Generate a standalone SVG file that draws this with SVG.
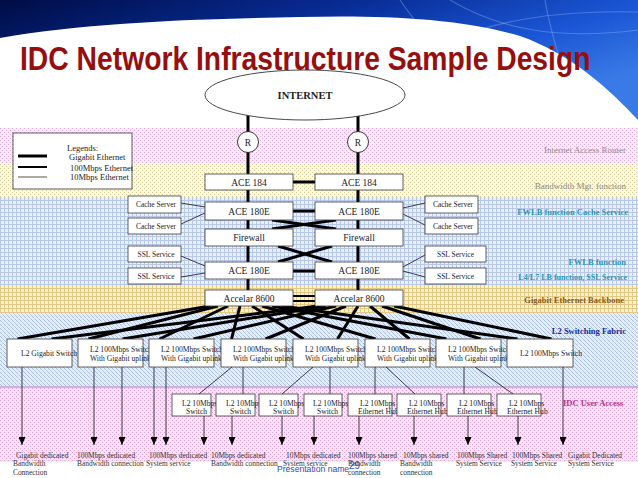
<svg xmlns="http://www.w3.org/2000/svg" width="638" height="478" viewBox="0 0 638 478">
<defs>
  <linearGradient id="hdr" x1="0" y1="0" x2="1" y2="0.6">
    <stop offset="0" stop-color="#000d45"/>
    <stop offset="0.4" stop-color="#072a92"/>
    <stop offset="0.75" stop-color="#1a56d4"/>
    <stop offset="1" stop-color="#3a7ae6"/>
  </linearGradient>
  <clipPath id="hdrClip"><path d="M0,0 H638 V120 C612,92 572,54 520,36 C460,18 380,15 300,17 C200,19 90,22 0,38 Z"/></clipPath>
  <pattern id="pinkDots" width="4" height="4" patternUnits="userSpaceOnUse">
    <rect width="4" height="4" fill="#fbebf8"/><rect width="1" height="1" fill="#deaad6"/><rect x="2" y="2" width="1" height="1" fill="#deaad6"/>
  </pattern>
  <pattern id="pinkDots2" width="4" height="4" patternUnits="userSpaceOnUse">
    <rect width="4" height="4" fill="#f9e3f4"/><rect width="1" height="1" fill="#d9a0d0"/><rect x="2" y="2" width="1" height="1" fill="#d9a0d0"/>
  </pattern>
  <pattern id="yelDots" width="4" height="4" patternUnits="userSpaceOnUse">
    <rect width="4" height="4" fill="#fbf8e4"/><rect width="1" height="1" fill="#d6cb92"/><rect x="2" y="2" width="1" height="1" fill="#d6cb92"/>
  </pattern>
  <pattern id="blueGrid" width="4" height="4" patternUnits="userSpaceOnUse">
    <rect width="4" height="4" fill="#eaf0fa"/><rect width="4" height="1" fill="#b7c8e8"/><rect width="1" height="4" fill="#b7c8e8"/>
  </pattern>
  <pattern id="yelGrid" width="4" height="4" patternUnits="userSpaceOnUse">
    <rect width="4" height="4" fill="#fcf2cc"/><rect width="4" height="1" fill="#e2c985"/><rect width="1" height="4" fill="#e2c985"/>
  </pattern>
  <pattern id="blueDiag" width="4" height="4" patternUnits="userSpaceOnUse">
    <rect width="4" height="4" fill="#e4edfa"/><rect width="1" height="1" fill="#a9c0e6"/><rect x="1" y="1" width="1" height="1" fill="#a9c0e6"/><rect x="2" y="2" width="1" height="1" fill="#c4d4ee"/><rect x="3" y="3" width="1" height="1" fill="#a9c0e6"/>
  </pattern>
  <marker id="arr" markerWidth="8" markerHeight="7" refX="8" refY="3.5" orient="auto" markerUnits="userSpaceOnUse">
    <path d="M0,0 L8,3.5 L0,7 Z" fill="#000"/>
  </marker>
  <style>
    .box{fill:#fff;stroke:#3a3a3a;stroke-width:0.8}
    .t{font-family:"Liberation Serif","Times New Roman",serif;fill:#222}
    .lb{font-size:9.5px;text-anchor:middle}
    .sm{font-size:7.5px;text-anchor:middle}
    .l2{font-size:7.6px}
    .bt{font-family:"Liberation Serif","Times New Roman",serif;font-size:7.4px;fill:#333}
    .band{font-family:"Liberation Serif","Times New Roman",serif;text-anchor:end}
    .thick{stroke:#000;stroke-width:3;fill:none;stroke-linecap:butt}
    .med{stroke:#000;stroke-width:2;fill:none}
    .thin{stroke:#2a2a2a;stroke-width:0.9;fill:none}
    .down{stroke:#2a2a2a;stroke-width:0.9;fill:none;marker-end:url(#arr)}
  </style>
</defs>

<!-- background -->
<rect width="638" height="478" fill="#fff"/>
<path d="M0,0 H638 V120 C612,92 572,54 520,36 C460,18 380,15 300,17 C200,19 90,22 0,38 Z" fill="url(#hdr)"/>
<g clip-path="url(#hdrClip)" fill="none" stroke="#9fc0ff" stroke-opacity="0.35" stroke-width="1.2">
  <path d="M400,0 C420,30 450,60 470,110"/>
  <path d="M545,0 C550,30 560,60 575,110"/>
  <path d="M420,55 C480,20 560,10 638,12"/>
  <path d="M450,0 C500,30 560,40 638,30"/>
</g>
<text transform="translate(20,70) scale(1,1.17)" x="0" y="0" font-family="'Liberation Sans',Arial,sans-serif" font-weight="bold" font-size="28.3" fill="#960f0f">IDC Network Infrastructure Sample Design</text>

<!-- bands -->
<rect x="0" y="128" width="638" height="35" fill="url(#pinkDots)"/>
<rect x="0" y="163" width="638" height="34" fill="url(#yelDots)"/>
<rect x="0" y="197" width="638" height="88" fill="url(#blueGrid)"/>
<rect x="0" y="285" width="638" height="28" fill="url(#yelGrid)"/>
<rect x="0" y="313" width="638" height="74" fill="url(#blueDiag)"/>
<rect x="0" y="387" width="638" height="74" fill="url(#pinkDots2)"/>
<line x1="0" y1="387" x2="638" y2="387" stroke="#b46cc8" stroke-width="0.9"/>
<line x1="0" y1="461" x2="638" y2="461" stroke="#e6bfe0" stroke-width="0.6"/>

<!-- band labels -->
<text class="band" x="626" y="153" font-size="9" fill="#8a8a8a">Internet Access Router</text>
<text class="band" x="626" y="189" font-size="9" fill="#8a8a8a">Bandwidth Mgt. function</text>
<text class="band" x="628" y="215" font-size="8.5" font-weight="bold" fill="#2a97b3">FWLB function Cache Service</text>
<text class="band" x="626" y="265" font-size="8.5" font-weight="bold" fill="#2a97b3">FWLB function</text>
<text class="band" x="627" y="280" font-size="8" font-weight="bold" fill="#2a97b3">L4/L7 LB function, SSL Service</text>
<text class="band" x="624" y="303" font-size="8.5" font-weight="bold" fill="#8b5a1a">Gigabit Ethernet Backbone</text>
<text class="band" x="626" y="334" font-size="8.5" font-weight="bold" fill="#1a2a9a">L2 Switching Fabric</text>
<text x="563" y="406" font-family="'Liberation Serif','Times New Roman',serif" font-size="8.5" font-weight="bold" fill="#c4308c">IDC User Access</text>

<!-- legend -->
<g id="legend">
  <rect x="13" y="133" width="119" height="56" fill="#fff" stroke="#333" stroke-width="0.8"/>
  <line x1="18" y1="156" x2="47" y2="156" stroke="#000" stroke-width="3"/>
  <line x1="18" y1="167" x2="47" y2="167" stroke="#000" stroke-width="2"/>
  <line x1="18" y1="177" x2="47" y2="177" stroke="#555" stroke-width="1"/>
  <text class="t" x="67" y="151" font-size="8.5">Legends:</text>
  <text class="t" x="69" y="160" font-size="8.5">Gigabit Ethernet</text>
  <text class="t" x="70" y="171" font-size="8.5">100Mbps Ethernet</text>
  <text class="t" x="70" y="180" font-size="8.5">10Mbps Ethernet</text>
</g>

<!-- connectors -->
<g id="connectors">
  <line class="thick" x1="248" y1="115" x2="248" y2="290"/>
  <line class="thick" x1="358" y1="115" x2="358" y2="290"/>
  <line class="thick" x1="293" y1="182" x2="315" y2="182"/>
  <line class="thick" x1="293" y1="211" x2="315" y2="211"/>
  <line class="thick" x1="293" y1="271" x2="315" y2="271"/>
  <line class="med" x1="293" y1="296" x2="315" y2="296"/>
  <line class="med" x1="293" y1="301" x2="315" y2="301"/>
  <line class="thick" x1="272" y1="220" x2="336" y2="229"/>
  <line class="thick" x1="336" y1="220" x2="272" y2="229"/>
  <line class="thick" x1="278" y1="246" x2="332" y2="262"/>
  <line class="thick" x1="332" y1="246" x2="278" y2="262"/>
  <!-- server links -->
  <line class="thin" x1="181" y1="203" x2="205" y2="207"/>
  <line class="thin" x1="181" y1="224" x2="205" y2="213"/>
  <line class="thin" x1="181" y1="256" x2="205" y2="266"/>
  <line class="thin" x1="181" y1="277" x2="205" y2="273"/>
  <line class="thin" x1="403" y1="208" x2="425" y2="203"/>
  <line class="thin" x1="403" y1="214" x2="425" y2="225"/>
  <line class="thin" x1="403" y1="267" x2="425" y2="255"/>
  <line class="thin" x1="403" y1="271" x2="425" y2="277"/>
  <!-- fan -->
  <g class="thick">
    <line x1="210" y1="306" x2="17.5" y2="339"/>
    <line x1="218" y1="306" x2="88.5" y2="339"/>
    <line x1="228" y1="306" x2="159.5" y2="339"/>
    <line x1="240" y1="306" x2="231.5" y2="339"/>
    <line x1="252" y1="306" x2="303.5" y2="339"/>
    <line x1="262" y1="306" x2="375.5" y2="339"/>
    <line x1="272" y1="306" x2="446.5" y2="339"/>
    <line x1="282" y1="306" x2="517.5" y2="339"/>
    <line x1="318" y1="306" x2="51.5" y2="339"/>
    <line x1="326" y1="306" x2="122.5" y2="339"/>
    <line x1="336" y1="306" x2="193.5" y2="339"/>
    <line x1="346" y1="306" x2="265.5" y2="339"/>
    <line x1="358" y1="306" x2="337.5" y2="339"/>
    <line x1="370" y1="306" x2="409.5" y2="339"/>
    <line x1="382" y1="306" x2="480.5" y2="339"/>
    <line x1="394" y1="306" x2="551.5" y2="339"/>
  </g>
  <!-- L2 to 10Mbps -->
  <line class="thin" x1="232" y1="367" x2="199" y2="394"/>
  <line class="thin" x1="243" y1="367" x2="243" y2="394"/>
  <line class="thin" x1="313" y1="367" x2="282" y2="394"/>
  <line class="thin" x1="330" y1="367" x2="330" y2="394"/>
  <line class="thin" x1="375" y1="367" x2="375" y2="394"/>
  <line class="thin" x1="386" y1="367" x2="415" y2="394"/>
  <line class="thin" x1="464" y1="367" x2="464" y2="394"/>
  <line class="thin" x1="475" y1="367" x2="513" y2="394"/>
  <!-- downlinks -->
  <line class="down" x1="22" y1="367" x2="22" y2="445"/>
  <line class="down" x1="94" y1="367" x2="94" y2="445"/>
  <line class="down" x1="122" y1="367" x2="122" y2="445"/>
  <line class="down" x1="154" y1="367" x2="154" y2="445"/>
  <line class="down" x1="166" y1="367" x2="166" y2="445"/>
  <line class="down" x1="204" y1="416" x2="204" y2="445"/>
  <line class="down" x1="232" y1="416" x2="232" y2="445"/>
  <line class="down" x1="282" y1="416" x2="282" y2="445"/>
  <line class="down" x1="314" y1="416" x2="314" y2="445"/>
  <line class="down" x1="359" y1="416" x2="359" y2="445"/>
  <line class="down" x1="414" y1="416" x2="414" y2="445"/>
  <line class="down" x1="468" y1="416" x2="468" y2="445"/>
  <line class="down" x1="518" y1="416" x2="518" y2="445"/>
  <line class="down" x1="563" y1="367" x2="563" y2="445"/>
</g>

<!-- top nodes -->
<g id="internet">
  <ellipse cx="305" cy="95" rx="100" ry="25" fill="#fff" stroke="#333" stroke-width="0.9"/>
  <text class="t" x="305" y="98.5" font-size="10.5" font-weight="bold" text-anchor="middle">INTERNET</text>
</g>
<g id="router1"><circle cx="248" cy="142" r="10.5" fill="#fff" stroke="#222" stroke-width="0.9"/><text class="t" x="248" y="145.5" font-size="9.5" text-anchor="middle">R</text></g>
<g id="router2"><circle cx="358" cy="142" r="10.5" fill="#fff" stroke="#222" stroke-width="0.9"/><text class="t" x="358" y="145.5" font-size="9.5" text-anchor="middle">R</text></g>

<g id="ace184-l"><rect class="box" x="205" y="174" width="88" height="16"/><text class="t lb" x="249" y="185.5">ACE 184</text></g>
<g id="ace184-r"><rect class="box" x="315" y="174" width="88" height="16"/><text class="t lb" x="359" y="185.5">ACE 184</text></g>
<g id="ace180e-l1"><rect class="box" x="205" y="202" width="88" height="18"/><text class="t lb" x="249" y="214.5">ACE 180E</text></g>
<g id="ace180e-r1"><rect class="box" x="315" y="202" width="88" height="18"/><text class="t lb" x="359" y="214.5">ACE 180E</text></g>
<g id="fw-l"><rect class="box" x="205" y="229" width="88" height="17"/><text class="t lb" x="249" y="241">Firewall</text></g>
<g id="fw-r"><rect class="box" x="315" y="229" width="88" height="17"/><text class="t lb" x="359" y="241">Firewall</text></g>
<g id="ace180e-l2"><rect class="box" x="205" y="262" width="88" height="17"/><text class="t lb" x="249" y="274">ACE 180E</text></g>
<g id="ace180e-r2"><rect class="box" x="315" y="262" width="88" height="17"/><text class="t lb" x="359" y="274">ACE 180E</text></g>
<g id="accelar-l"><rect class="box" x="205" y="290" width="88" height="16"/><text class="t lb" x="249" y="301.5">Accelar 8600</text></g>
<g id="accelar-r"><rect class="box" x="315" y="290" width="88" height="16"/><text class="t lb" x="359" y="301.5">Accelar 8600</text></g>

<g id="cache-l1"><rect class="box" x="128" y="196" width="53" height="17"/><text class="t sm" x="156" y="207">Cache Server</text></g>
<g id="cache-l2"><rect class="box" x="128" y="218" width="53" height="16"/><text class="t sm" x="156" y="228.5">Cache Server</text></g>
<g id="ssl-l1"><rect class="box" x="128" y="246" width="53" height="16"/><text class="t sm" x="156" y="256.5">SSL Service</text></g>
<g id="ssl-l2"><rect class="box" x="128" y="268" width="53" height="16"/><text class="t sm" x="156" y="278.5">SSL Service</text></g>
<g id="cache-r1"><rect class="box" x="425" y="196" width="53" height="17"/><text class="t sm" x="453" y="207">Cache Server</text></g>
<g id="cache-r2"><rect class="box" x="425" y="218" width="53" height="16"/><text class="t sm" x="453" y="228.5">Cache Server</text></g>
<g id="ssl-r1"><rect class="box" x="425" y="246" width="61" height="16"/><text class="t sm" x="455.5" y="256.5">SSL Service</text></g>
<g id="ssl-r2"><rect class="box" x="425" y="268" width="61" height="16"/><text class="t sm" x="455.5" y="278.5">SSL Service</text></g>

<!-- L2 switches -->
<g id="l2-1"><rect class="box" x="7" y="339" width="65" height="28"/><text class="t l2" x="21" y="356">L2 Gigabit Switch</text></g>
<g id="l2-2"><rect class="box" x="78" y="339" width="65" height="28"/><text class="t l2" x="90" y="352">L2 100Mbps Switch</text><text class="t l2" x="90" y="361">With Gigabit uplink</text></g>
<g id="l2-3"><rect class="box" x="149" y="339" width="65" height="28"/><text class="t l2" x="161" y="352">L2 100Mbps Switch</text><text class="t l2" x="161" y="361">With Gigabit uplink</text></g>
<g id="l2-4"><rect class="box" x="221" y="339" width="65" height="28"/><text class="t l2" x="233" y="352">L2 100Mbps Switch</text><text class="t l2" x="233" y="361">With Gigabit uplink</text></g>
<g id="l2-5"><rect class="box" x="293" y="339" width="65" height="28"/><text class="t l2" x="305" y="352">L2 100Mbps Switch</text><text class="t l2" x="305" y="361">With Gigabit uplink</text></g>
<g id="l2-6"><rect class="box" x="365" y="339" width="65" height="28"/><text class="t l2" x="377" y="352">L2 100Mbps Switch</text><text class="t l2" x="377" y="361">With Gigabit uplink</text></g>
<g id="l2-7"><rect class="box" x="436" y="339" width="65" height="28"/><text class="t l2" x="448" y="352">L2 100Mbps Switch</text><text class="t l2" x="448" y="361">With Gigabit uplink</text></g>
<g id="l2-8"><rect class="box" x="507" y="339" width="66" height="28"/><text class="t l2" x="520" y="356">L2 100Mbps Switch</text></g>

<!-- 10Mbps -->
<g id="sw10-1"><rect class="box" x="172" y="394" width="39" height="22"/><text class="t l2" x="182" y="405.5">L2 10Mbps</text><text class="t l2" x="186" y="413.5">Switch</text></g>
<g id="sw10-2"><rect class="box" x="216" y="394" width="39" height="22"/><text class="t l2" x="226" y="405.5">L2 10Mbps</text><text class="t l2" x="230" y="413.5">Switch</text></g>
<g id="sw10-3"><rect class="box" x="259" y="394" width="39" height="22"/><text class="t l2" x="269" y="405.5">L2 10Mbps</text><text class="t l2" x="273" y="413.5">Switch</text></g>
<g id="sw10-4"><rect class="box" x="304" y="394" width="38" height="22"/><text class="t l2" x="313" y="405.5">L2 10Mbps</text><text class="t l2" x="317" y="413.5">Switch</text></g>
<g id="hub-1"><rect class="box" x="348" y="394" width="44" height="22"/><text class="t l2" x="360" y="405.5">L2 10Mbps</text><text class="t l2" x="358" y="413.5">Ethernet Hub</text></g>
<g id="hub-2"><rect class="box" x="397" y="394" width="44" height="22"/><text class="t l2" x="409" y="405.5">L2 10Mbps</text><text class="t l2" x="407" y="413.5">Ethernet Hub</text></g>
<g id="hub-3"><rect class="box" x="447" y="394" width="44" height="22"/><text class="t l2" x="459" y="405.5">L2 10Mbps</text><text class="t l2" x="457" y="413.5">Ethernet Hub</text></g>
<g id="hub-4"><rect class="box" x="497" y="394" width="44" height="22"/><text class="t l2" x="509" y="405.5">L2 10Mbps</text><text class="t l2" x="507" y="413.5">Ethernet Hub</text></g>

<!-- bottom labels -->
<g id="bottom-labels">
  <text class="bt" x="16" y="457.5">Gigabit dedicated</text>
  <text class="bt" x="13" y="466">Bandwidth</text>
  <text class="bt" x="13" y="474.5">Connection</text>
  <text class="bt" x="77" y="457.5">100Mbps dedicated</text>
  <text class="bt" x="77" y="466">Bandwidth connection</text>
  <text class="bt" x="149" y="457.5">100Mbps dedicated</text>
  <text class="bt" x="146" y="466">System service</text>
  <text class="bt" x="211" y="457.5">10Mbps dedicated</text>
  <text class="bt" x="211" y="466">Bandwidth connection</text>
  <text class="bt" x="286" y="457.5">10Mbps dedicated</text>
  <text class="bt" x="283" y="466">System service</text>
  <text class="bt" x="348" y="457.5">100Mbps shared</text>
  <text class="bt" x="348" y="466">Bandwidth</text>
  <text class="bt" x="348" y="474.5">connection</text>
  <text class="bt" x="403" y="457.5">10Mbps shared</text>
  <text class="bt" x="400" y="466">Bandwidth</text>
  <text class="bt" x="400" y="474.5">connection</text>
  <text class="bt" x="457" y="457.5">100Mbps Shared</text>
  <text class="bt" x="456" y="466">System Service</text>
  <text class="bt" x="512" y="457.5">100Mbps Shared</text>
  <text class="bt" x="511" y="466">System Service</text>
  <text class="bt" x="568" y="457.5">Gigabit Dedicated</text>
  <text class="bt" x="568" y="466">System Service</text>
</g>
<text x="277" y="472" font-family="'Liberation Sans',Arial,sans-serif" font-size="8.6" fill="#2a4db0">Presentation name</text>
<text x="349" y="469" font-family="'Liberation Sans',Arial,sans-serif" font-size="10" fill="#2a4db0">29</text>
</svg>
